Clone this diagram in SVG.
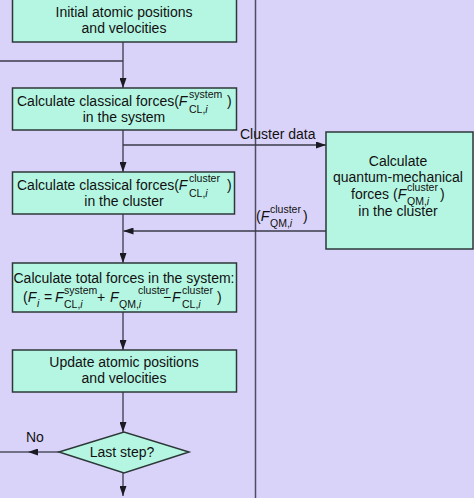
<svg xmlns="http://www.w3.org/2000/svg" width="474" height="498" viewBox="0 0 474 498">
  <style>
    .bg { fill: #dad3f9; }
    .box { fill: #b5f6e2; stroke: #2c3838; stroke-width: 1.5; }
    .ln { fill: none; stroke: #3a3a48; stroke-width: 1.3; }
    .div { fill: none; stroke: #4e4e62; stroke-width: 1.5; }
    text { font-family: "Liberation Sans", Arial, sans-serif; fill: #111; }
    .t { font-size: 14px; }
    .c { font-size: 14px; text-anchor: middle; }
    .s { font-size: 10.5px; }
    .it { font-style: italic; }
  </style>
  <defs>
    <marker id="arr" markerUnits="userSpaceOnUse" markerWidth="10" markerHeight="7" refX="10" refY="3.5" orient="auto">
      <path d="M0,0 L10,3.5 L0,7 z" fill="#1a1a22"/>
    </marker>
  </defs>

  <rect class="bg" x="0" y="0" width="474" height="498"/>

  <!-- divider between classical and quantum parts -->
  <line class="div" x1="255.5" y1="0" x2="255.5" y2="498"/>

  <g id="connectors">
    <path class="ln" d="M123,42 V88" marker-end="url(#arr)"/>
    <path class="ln" d="M0,61 H123"/>
    <path class="ln" d="M123,130 V172" marker-end="url(#arr)"/>
    <path class="ln" d="M123,145 H326" marker-end="url(#arr)"/>
    <path class="ln" d="M326,231 H123.5" marker-end="url(#arr)"/>
    <path class="ln" d="M123,214 V263" marker-end="url(#arr)"/>
    <path class="ln" d="M123,312 V350" marker-end="url(#arr)"/>
    <path class="ln" d="M123,392 V432" marker-end="url(#arr)"/>
    <path class="ln" d="M59,452 H28" marker-end="url(#arr)"/>
    <path class="ln" d="M28,452 H0"/>
    <path class="ln" d="M123,473 V496" marker-end="url(#arr)"/>
    <text class="t" x="240" y="139">Cluster data</text>
    <text class="t" x="256" y="221">(<tspan class="it">F</tspan></text>
    <text class="s" x="270" y="212.5">cluster</text>
    <text class="s" x="270" y="226.5">QM,<tspan class="it">i</tspan></text>
    <text class="t" x="303" y="221">)</text>
    <text class="t" x="26" y="442">No</text>
  </g>

  <g id="init">
    <rect class="box" x="12.5" y="-2" width="224" height="44"/>
    <text class="c" x="124" y="17">Initial atomic positions</text>
    <text class="c" x="124" y="33">and velocities</text>
  </g>

  <g id="cl-system">
    <rect class="box" x="12.5" y="88" width="224" height="42"/>
    <text class="t" x="17" y="106">Calculate classical forces(<tspan class="it">F</tspan></text>
    <text class="s" x="189" y="97.5">system</text>
    <text class="s" x="189" y="112.5">CL,<tspan class="it">i</tspan></text>
    <text class="t" x="227" y="106">)</text>
    <text class="c" x="124" y="122">in the system</text>
  </g>

  <g id="cl-cluster">
    <rect class="box" x="12.5" y="172" width="222" height="42"/>
    <text class="t" x="17" y="190">Calculate classical forces(<tspan class="it">F</tspan></text>
    <text class="s" x="189" y="181.5">cluster</text>
    <text class="s" x="189" y="196.5">CL,<tspan class="it">i</tspan></text>
    <text class="t" x="227" y="190">)</text>
    <text class="c" x="124" y="206">in the cluster</text>
  </g>

  <g id="qm-cluster">
    <rect class="box" x="326" y="132" width="147" height="117"/>
    <text class="c" x="398" y="166">Calculate</text>
    <text class="c" x="398" y="182">quantum-mechanical</text>
    <text class="t" x="351" y="199">forces (<tspan class="it">F</tspan></text>
    <text class="s" x="407" y="190.5">cluster</text>
    <text class="s" x="407" y="204.5">QM,<tspan class="it">i</tspan></text>
    <text class="t" x="440" y="199">)</text>
    <text class="c" x="398" y="216">in the cluster</text>
  </g>

  <g id="total">
    <rect class="box" x="12.5" y="263" width="224" height="49"/>
    <text class="c" x="124" y="283">Calculate total forces in the system:</text>
    <text class="t" x="23" y="302">(<tspan class="it">F</tspan></text>
    <text class="s it" x="37" y="307">i</text>
    <text class="t" x="44" y="302">=</text>
    <text class="t it" x="55" y="302">F</text>
    <text class="s" x="64" y="293.5">system</text>
    <text class="s" x="64" y="307.5">CL,<tspan class="it">i</tspan></text>
    <text class="t" x="97" y="302">+</text>
    <text class="t it" x="110" y="302">F</text>
    <text class="s" x="138" y="293.5">cluster</text>
    <text class="s" x="119" y="307.5">QM,<tspan class="it">i</tspan></text>
    <text class="t" x="163" y="302">−</text>
    <text class="t it" x="172" y="302">F</text>
    <text class="s" x="182" y="293.5">cluster</text>
    <text class="s" x="182" y="307.5">CL,<tspan class="it">i</tspan></text>
    <text class="t" x="217" y="302">)</text>
  </g>

  <g id="update">
    <rect class="box" x="12.5" y="350" width="224" height="42"/>
    <text class="c" x="124" y="367">Update atomic positions</text>
    <text class="c" x="124" y="383">and velocities</text>
  </g>

  <g id="last-step">
    <polygon class="box" points="59,452 124,432 189,452 124,473"/>
    <text class="c" x="122" y="457">Last step?</text>
  </g>
</svg>
